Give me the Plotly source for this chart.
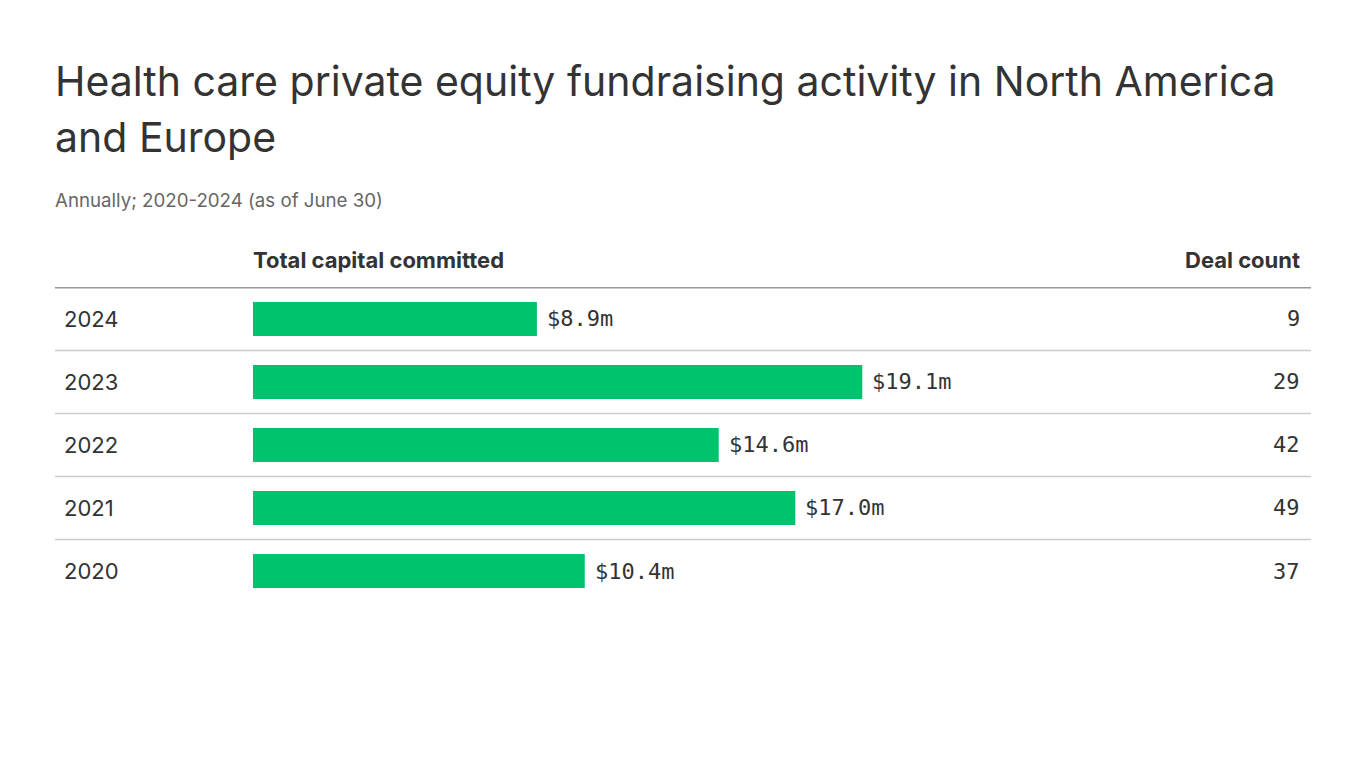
import plotly.graph_objects as go

years = ["2024", "2023", "2022", "2021", "2020"]
capital = [8.9, 19.1, 14.6, 17.0, 10.4]
capital_labels = ["$8.9m", "$19.1m", "$14.6m", "$17.0m", "$10.4m"]
deal_count = [9, 29, 42, 49, 37]

title_lines = ["Health care private equity fundraising activity in North America", "and Europe"]
subtitle = "Annually; 2020-2024 (as of June 30)"
col_head_bar = "Total capital committed"
col_head_count = "Deal count"

W, H = 1366, 768
GREEN = "#00c36e"
TEXT = "#333333"
SANS = "Inter, Roboto, 'Open Sans', sans-serif"
MONO = "'DejaVu Sans Mono', 'Liberation Mono', monospace"

def px_x(p):
    return p / W

def px_y(p):
    return 1 - p / H

fig = go.Figure()
idx = list(range(len(years)))
fig.add_trace(go.Bar(
    x=capital, y=idx, orientation="h",
    marker=dict(color=GREEN, line=dict(width=0)),
    width=0.54, hoverinfo="skip",
))

x_left, x_right = 253, 1311
px_per_unit = 31.9
xrange_max = (x_right - x_left) / px_per_unit
top, bottom = 287.5, 602.5

fig.update_layout(
    width=W, height=H,
    margin=dict(l=0, r=0, t=0, b=0),
    paper_bgcolor="white", plot_bgcolor="white",
    showlegend=False,
    xaxis=dict(domain=[px_x(x_left), px_x(x_right)], range=[0, xrange_max],
               visible=False, fixedrange=True),
    yaxis=dict(domain=[px_y(bottom), px_y(top)],
               range=[len(years) - 0.5, -0.5], visible=False, fixedrange=True),
)

ann = []
ann.append(dict(text=title_lines[0], x=px_x(53), y=px_y(81), xref="paper", yref="paper",
                xanchor="left", yanchor="middle", showarrow=False,
                font=dict(family=SANS, size=41, color=TEXT)))
ann.append(dict(text=title_lines[1], x=px_x(53), y=px_y(137), xref="paper", yref="paper",
                xanchor="left", yanchor="middle", showarrow=False,
                font=dict(family=SANS, size=41, color=TEXT)))
ann.append(dict(text=subtitle, x=px_x(53), y=px_y(200), xref="paper", yref="paper",
                xanchor="left", yanchor="middle", showarrow=False,
                font=dict(family=SANS, size=18.7, color="#666666")))
ann.append(dict(text="<b>" + col_head_bar + "</b>", x=px_x(251), y=px_y(260), xref="paper", yref="paper",
                xanchor="left", yanchor="middle", showarrow=False,
                font=dict(family=SANS, size=22, color=TEXT)))
ann.append(dict(text="<b>" + col_head_count + "</b>", x=px_x(1302), y=px_y(260), xref="paper", yref="paper",
                xanchor="right", yanchor="middle", showarrow=False,
                font=dict(family=SANS, size=22, color=TEXT)))

for i, (yr, v, lab, dc) in enumerate(zip(years, capital, capital_labels, deal_count)):
    ann.append(dict(text=yr, x=px_x(62), y=i, xref="paper", yref="y",
                    xanchor="left", yanchor="middle", showarrow=False,
                    font=dict(family=SANS, size=22, color=TEXT)))
    ann.append(dict(text=lab, x=v, y=i, xref="x", yref="y", xshift=8,
                    xanchor="left", yanchor="middle", showarrow=False,
                    font=dict(family=MONO, size=22, color=TEXT)))
    ann.append(dict(text=str(dc), x=px_x(1302), y=i, xref="paper", yref="y",
                    xanchor="right", yanchor="middle", showarrow=False,
                    font=dict(family=MONO, size=22, color=TEXT)))
fig.update_layout(annotations=ann)

shapes = [dict(type="line", xref="paper", yref="y", x0=px_x(55), x1=px_x(1311),
               y0=-0.5, y1=-0.5, line=dict(color="#333333", width=1.5))]
for i in range(len(years) - 1):
    shapes.append(dict(type="line", xref="paper", yref="y", x0=px_x(55), x1=px_x(1311),
                       y0=i + 0.5, y1=i + 0.5, line=dict(color="#cccccc", width=1.5)))
fig.update_layout(shapes=shapes)

fig.write_html("out.html", config={"displayModeBar": False})
